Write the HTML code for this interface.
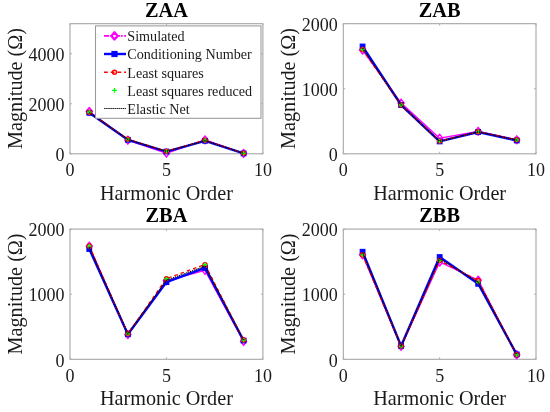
<!DOCTYPE html>
<html><head><meta charset="utf-8"><title>Impedance magnitude vs harmonic order</title><style>html,body{margin:0;padding:0;background:#fff;}svg{display:block;}</style></head><body><svg width="550" height="412" viewBox="0 0 550 412" font-family='"Liberation Serif", "Times New Roman", serif'>
<rect width="550" height="412" fill="#fff"/>
<rect x="70" y="23.7" width="192.90" height="130.10" fill="#fff" stroke="#a2a2a2" stroke-width="1.05"/>
<path d="M70.00 153.8v-2M70.00 23.7v2M166.45 153.8v-2M166.45 23.7v2M262.90 153.8v-2M262.90 23.7v2M70 153.80h2M262.9 153.80h-2M70 103.76h2M262.9 103.76h-2M70 53.72h2M262.9 53.72h-2" stroke="#b0b0b0" stroke-width="1" fill="none"/>
<text x="70.00" y="176.4" font-size="18" text-anchor="middle" fill="#1a1a1a">0</text>
<text x="166.45" y="176.4" font-size="18" text-anchor="middle" fill="#1a1a1a">5</text>
<text x="262.90" y="176.4" font-size="18" text-anchor="middle" fill="#1a1a1a">10</text>
<text x="64.4" y="161.00" font-size="18" text-anchor="end" fill="#1a1a1a">0</text>
<text x="64.4" y="110.96" font-size="18" text-anchor="end" fill="#1a1a1a">2000</text>
<text x="64.4" y="60.92" font-size="18" text-anchor="end" fill="#1a1a1a">4000</text>
<text x="166.45" y="199.60000000000002" font-size="20.2" text-anchor="middle" fill="#1a1a1a">Harmonic Order</text>
<text transform="translate(21.60 88.45) rotate(-90)" font-size="20.2" text-anchor="middle" fill="#1a1a1a">Magnitude (&#937;)</text>
<text x="166.45" y="16.90" font-size="20.3" font-weight="bold" text-anchor="middle" fill="#000">ZAA</text>
<polyline points="89.29,111.52 127.87,140.16 166.45,153.17 205.03,139.91 243.61,153.42" fill="none" stroke="#ff00ff" stroke-width="1.4"/><path d="M89.29 107.52L92.39 111.52L89.29 115.52L86.19 111.52Z" fill="none" stroke="#ff00ff" stroke-width="1.4" stroke-linejoin="round"/><path d="M127.87 136.16L130.97 140.16L127.87 144.16L124.77 140.16Z" fill="none" stroke="#ff00ff" stroke-width="1.4" stroke-linejoin="round"/><path d="M166.45 149.17L169.55 153.17L166.45 157.17L163.35 153.17Z" fill="none" stroke="#ff00ff" stroke-width="1.4" stroke-linejoin="round"/><path d="M205.03 135.91L208.13 139.91L205.03 143.91L201.93 139.91Z" fill="none" stroke="#ff00ff" stroke-width="1.4" stroke-linejoin="round"/><path d="M243.61 149.42L246.71 153.42L243.61 157.42L240.51 153.42Z" fill="none" stroke="#ff00ff" stroke-width="1.4" stroke-linejoin="round"/><polyline points="89.29,112.77 127.87,139.79 166.45,151.55 205.03,140.79 243.61,153.42" fill="none" stroke="#0000ff" stroke-width="2.4" stroke-linejoin="round"/><rect x="86.89" y="110.37" width="4.80" height="4.80" fill="#0000ff" stroke="#0000ff" stroke-width="1"/><rect x="125.47" y="137.39" width="4.80" height="4.80" fill="#0000ff" stroke="#0000ff" stroke-width="1"/><rect x="164.05" y="149.15" width="4.80" height="4.80" fill="#0000ff" stroke="#0000ff" stroke-width="1"/><rect x="202.63" y="138.39" width="4.80" height="4.80" fill="#0000ff" stroke="#0000ff" stroke-width="1"/><rect x="241.21" y="151.02" width="4.80" height="4.80" fill="#0000ff" stroke="#0000ff" stroke-width="1"/><polyline points="89.29,112.27 127.87,139.29 166.45,151.30 205.03,140.29 243.61,153.30" fill="none" stroke="#ff0000" stroke-width="1.3" stroke-dasharray="3.6 3"/><circle cx="89.29" cy="112.27" r="2.00" fill="none" stroke="#ff0000" stroke-width="1.4"/><circle cx="127.87" cy="139.29" r="2.00" fill="none" stroke="#ff0000" stroke-width="1.4"/><circle cx="166.45" cy="151.30" r="2.00" fill="none" stroke="#ff0000" stroke-width="1.4"/><circle cx="205.03" cy="140.29" r="2.00" fill="none" stroke="#ff0000" stroke-width="1.4"/><circle cx="243.61" cy="153.30" r="2.00" fill="none" stroke="#ff0000" stroke-width="1.4"/><path d="M87.19 112.27H91.39M89.29 110.17V114.37" stroke="#00ff00" stroke-width="1.3" fill="none"/><path d="M125.77 139.29H129.97M127.87 137.19V141.39" stroke="#00ff00" stroke-width="1.3" fill="none"/><path d="M164.35 151.30H168.55M166.45 149.20V153.40" stroke="#00ff00" stroke-width="1.3" fill="none"/><path d="M202.93 140.29H207.13M205.03 138.19V142.39" stroke="#00ff00" stroke-width="1.3" fill="none"/><path d="M241.51 153.30H245.71M243.61 151.20V155.40" stroke="#00ff00" stroke-width="1.3" fill="none"/><polyline points="89.29,112.52 127.87,139.54 166.45,151.42 205.03,140.54 243.61,153.42" fill="none" stroke="#000" stroke-width="1.2" stroke-dasharray="1.2 0.8"/>
<rect x="95.5" y="25.9" width="165.5" height="92.4" fill="#fff" stroke="#999" stroke-width="1.05"/>
<line x1="104" y1="35.9" x2="126" y2="35.9" stroke="#ff00ff" stroke-width="1.6" stroke-dasharray="5.2 1.1 9.9 0.9 1.6 1.4 5"/>
<path d="M114.50 32.30L117.60 35.90L114.50 39.50L111.40 35.90Z" fill="#fff" stroke="#ff00ff" stroke-width="2.3" stroke-linejoin="round"/>
<line x1="104" y1="54.0" x2="126" y2="54.0" stroke="#0000ff" stroke-width="2.4"/>
<rect x="111.90" y="51.40" width="5.20" height="5.20" fill="#0000ff" stroke="#0000ff" stroke-width="1"/>
<line x1="104" y1="72.2" x2="126" y2="72.2" stroke="#ff0000" stroke-width="1.5" stroke-dasharray="3.8 2.9"/>
<circle cx="114.50" cy="72.20" r="2.00" fill="none" stroke="#ff0000" stroke-width="1.5"/>
<path d="M112.10 90.40H116.90M114.50 88.00V92.80" stroke="#00ff00" stroke-width="1.3" fill="none"/>
<line x1="104" y1="108.5" x2="126" y2="108.5" stroke="#222" stroke-width="1.1" stroke-dasharray="1.6 0.5"/>
<text x="127.3" y="41.30" font-size="14.15" fill="#1a1a1a">Simulated</text>
<text x="127.3" y="59.40" font-size="14.15" fill="#1a1a1a">Conditioning Number</text>
<text x="127.3" y="77.60" font-size="14.15" fill="#1a1a1a">Least squares</text>
<text x="127.3" y="95.80" font-size="14.15" fill="#1a1a1a">Least squares reduced</text>
<text x="127.3" y="113.90" font-size="14.15" fill="#1a1a1a">Elastic Net</text>
<rect x="343.3" y="23.7" width="192.70" height="130.10" fill="#fff" stroke="#a2a2a2" stroke-width="1.05"/>
<path d="M343.30 153.8v-2M343.30 23.7v2M439.65 153.8v-2M439.65 23.7v2M536.00 153.8v-2M536.00 23.7v2M343.3 153.80h2M536 153.80h-2M343.3 88.75h2M536 88.75h-2M343.3 23.70h2M536 23.70h-2" stroke="#b0b0b0" stroke-width="1" fill="none"/>
<text x="343.30" y="176.4" font-size="18" text-anchor="middle" fill="#1a1a1a">0</text>
<text x="439.65" y="176.4" font-size="18" text-anchor="middle" fill="#1a1a1a">5</text>
<text x="536.00" y="176.4" font-size="18" text-anchor="middle" fill="#1a1a1a">10</text>
<text x="337.7" y="161.00" font-size="18" text-anchor="end" fill="#1a1a1a">0</text>
<text x="337.7" y="95.95" font-size="18" text-anchor="end" fill="#1a1a1a">1000</text>
<text x="337.7" y="30.90" font-size="18" text-anchor="end" fill="#1a1a1a">2000</text>
<text x="439.65" y="199.60000000000002" font-size="20.2" text-anchor="middle" fill="#1a1a1a">Harmonic Order</text>
<text transform="translate(294.90 88.45) rotate(-90)" font-size="20.2" text-anchor="middle" fill="#1a1a1a">Magnitude (&#937;)</text>
<text x="439.65" y="16.90" font-size="20.3" font-weight="bold" text-anchor="middle" fill="#000">ZAB</text>
<polyline points="362.57,50.05 401.11,103.06 439.65,138.19 478.19,131.36 516.73,139.81" fill="none" stroke="#ff00ff" stroke-width="1.4"/><path d="M362.57 46.05L365.67 50.05L362.57 54.05L359.47 50.05Z" fill="none" stroke="#ff00ff" stroke-width="1.4" stroke-linejoin="round"/><path d="M401.11 99.06L404.21 103.06L401.11 107.06L398.01 103.06Z" fill="none" stroke="#ff00ff" stroke-width="1.4" stroke-linejoin="round"/><path d="M439.65 134.19L442.75 138.19L439.65 142.19L436.55 138.19Z" fill="none" stroke="#ff00ff" stroke-width="1.4" stroke-linejoin="round"/><path d="M478.19 127.36L481.29 131.36L478.19 135.36L475.09 131.36Z" fill="none" stroke="#ff00ff" stroke-width="1.4" stroke-linejoin="round"/><path d="M516.73 135.81L519.83 139.81L516.73 143.81L513.63 139.81Z" fill="none" stroke="#ff00ff" stroke-width="1.4" stroke-linejoin="round"/><polyline points="362.57,46.47 401.11,105.01 439.65,141.44 478.19,132.01 516.73,140.46" fill="none" stroke="#0000ff" stroke-width="2.4" stroke-linejoin="round"/><rect x="360.17" y="44.07" width="4.80" height="4.80" fill="#0000ff" stroke="#0000ff" stroke-width="1"/><rect x="398.71" y="102.61" width="4.80" height="4.80" fill="#0000ff" stroke="#0000ff" stroke-width="1"/><rect x="437.25" y="139.04" width="4.80" height="4.80" fill="#0000ff" stroke="#0000ff" stroke-width="1"/><rect x="475.79" y="129.61" width="4.80" height="4.80" fill="#0000ff" stroke="#0000ff" stroke-width="1"/><rect x="514.33" y="138.06" width="4.80" height="4.80" fill="#0000ff" stroke="#0000ff" stroke-width="1"/><polyline points="362.57,49.52 401.11,105.01 439.65,141.12 478.19,131.68 516.73,139.81" fill="none" stroke="#ff0000" stroke-width="1.3" stroke-dasharray="3.6 3"/><circle cx="362.57" cy="49.52" r="2.00" fill="none" stroke="#ff0000" stroke-width="1.4"/><circle cx="401.11" cy="105.01" r="2.00" fill="none" stroke="#ff0000" stroke-width="1.4"/><circle cx="439.65" cy="141.12" r="2.00" fill="none" stroke="#ff0000" stroke-width="1.4"/><circle cx="478.19" cy="131.68" r="2.00" fill="none" stroke="#ff0000" stroke-width="1.4"/><circle cx="516.73" cy="139.81" r="2.00" fill="none" stroke="#ff0000" stroke-width="1.4"/><path d="M360.47 49.52H364.67M362.57 47.42V51.62" stroke="#00ff00" stroke-width="1.3" fill="none"/><path d="M399.01 105.01H403.21M401.11 102.91V107.11" stroke="#00ff00" stroke-width="1.3" fill="none"/><path d="M437.55 141.12H441.75M439.65 139.02V143.22" stroke="#00ff00" stroke-width="1.3" fill="none"/><path d="M476.09 131.68H480.29M478.19 129.58V133.78" stroke="#00ff00" stroke-width="1.3" fill="none"/><path d="M514.63 139.81H518.83M516.73 137.71V141.91" stroke="#00ff00" stroke-width="1.3" fill="none"/><polyline points="362.57,48.09 401.11,104.88 439.65,141.31 478.19,131.81 516.73,140.14" fill="none" stroke="#000" stroke-width="1.2" stroke-dasharray="1.2 0.8"/>
<rect x="70" y="229.1" width="192.90" height="130.20" fill="#fff" stroke="#a2a2a2" stroke-width="1.05"/>
<path d="M70.00 359.3v-2M70.00 229.1v2M166.45 359.3v-2M166.45 229.1v2M262.90 359.3v-2M262.90 229.1v2M70 359.30h2M262.9 359.30h-2M70 294.20h2M262.9 294.20h-2M70 229.10h2M262.9 229.10h-2" stroke="#b0b0b0" stroke-width="1" fill="none"/>
<text x="70.00" y="381.90000000000003" font-size="18" text-anchor="middle" fill="#1a1a1a">0</text>
<text x="166.45" y="381.90000000000003" font-size="18" text-anchor="middle" fill="#1a1a1a">5</text>
<text x="262.90" y="381.90000000000003" font-size="18" text-anchor="middle" fill="#1a1a1a">10</text>
<text x="64.4" y="366.50" font-size="18" text-anchor="end" fill="#1a1a1a">0</text>
<text x="64.4" y="301.40" font-size="18" text-anchor="end" fill="#1a1a1a">1000</text>
<text x="64.4" y="236.30" font-size="18" text-anchor="end" fill="#1a1a1a">2000</text>
<text x="166.45" y="405.1" font-size="20.2" text-anchor="middle" fill="#1a1a1a">Harmonic Order</text>
<text transform="translate(21.60 293.90) rotate(-90)" font-size="20.2" text-anchor="middle" fill="#1a1a1a">Magnitude (&#937;)</text>
<text x="166.45" y="222.30" font-size="20.3" font-weight="bold" text-anchor="middle" fill="#000">ZBA</text>
<polyline points="89.29,246.16 127.87,334.56 166.45,280.85 205.03,270.44 243.61,341.40" fill="none" stroke="#ff00ff" stroke-width="1.4"/><path d="M89.29 242.16L92.39 246.16L89.29 250.16L86.19 246.16Z" fill="none" stroke="#ff00ff" stroke-width="1.4" stroke-linejoin="round"/><path d="M127.87 330.56L130.97 334.56L127.87 338.56L124.77 334.56Z" fill="none" stroke="#ff00ff" stroke-width="1.4" stroke-linejoin="round"/><path d="M166.45 276.85L169.55 280.85L166.45 284.85L163.35 280.85Z" fill="none" stroke="#ff00ff" stroke-width="1.4" stroke-linejoin="round"/><path d="M205.03 266.44L208.13 270.44L205.03 274.44L201.93 270.44Z" fill="none" stroke="#ff00ff" stroke-width="1.4" stroke-linejoin="round"/><path d="M243.61 337.40L246.71 341.40L243.61 345.40L240.51 341.40Z" fill="none" stroke="#ff00ff" stroke-width="1.4" stroke-linejoin="round"/><polyline points="89.29,248.96 127.87,334.24 166.45,282.16 205.03,267.83 243.61,340.55" fill="none" stroke="#0000ff" stroke-width="2.4" stroke-linejoin="round"/><rect x="86.89" y="246.56" width="4.80" height="4.80" fill="#0000ff" stroke="#0000ff" stroke-width="1"/><rect x="125.47" y="331.84" width="4.80" height="4.80" fill="#0000ff" stroke="#0000ff" stroke-width="1"/><rect x="164.05" y="279.76" width="4.80" height="4.80" fill="#0000ff" stroke="#0000ff" stroke-width="1"/><rect x="202.63" y="265.43" width="4.80" height="4.80" fill="#0000ff" stroke="#0000ff" stroke-width="1"/><rect x="241.21" y="338.15" width="4.80" height="4.80" fill="#0000ff" stroke="#0000ff" stroke-width="1"/><polyline points="89.29,246.03 127.87,333.78 166.45,278.58 205.03,264.58 243.61,340.03" fill="none" stroke="#ff0000" stroke-width="1.3" stroke-dasharray="3.6 3"/><circle cx="89.29" cy="246.03" r="2.00" fill="none" stroke="#ff0000" stroke-width="1.4"/><circle cx="127.87" cy="333.78" r="2.00" fill="none" stroke="#ff0000" stroke-width="1.4"/><circle cx="166.45" cy="278.58" r="2.00" fill="none" stroke="#ff0000" stroke-width="1.4"/><circle cx="205.03" cy="264.58" r="2.00" fill="none" stroke="#ff0000" stroke-width="1.4"/><circle cx="243.61" cy="340.03" r="2.00" fill="none" stroke="#ff0000" stroke-width="1.4"/><path d="M87.19 246.22H91.39M89.29 244.12V248.32" stroke="#00ff00" stroke-width="1.3" fill="none"/><path d="M125.77 333.78H129.97M127.87 331.68V335.88" stroke="#00ff00" stroke-width="1.3" fill="none"/><path d="M164.35 278.77H168.55M166.45 276.67V280.87" stroke="#00ff00" stroke-width="1.3" fill="none"/><path d="M202.93 264.77H207.13M205.03 262.67V266.87" stroke="#00ff00" stroke-width="1.3" fill="none"/><path d="M241.51 340.16H245.71M243.61 338.06V342.26" stroke="#00ff00" stroke-width="1.3" fill="none"/><polyline points="89.29,247.33 127.87,333.91 166.45,280.20 205.03,266.21 243.61,340.29" fill="none" stroke="#000" stroke-width="1.2" stroke-dasharray="1.2 0.8"/>
<rect x="343.3" y="229.1" width="192.70" height="130.20" fill="#fff" stroke="#a2a2a2" stroke-width="1.05"/>
<path d="M343.30 359.3v-2M343.30 229.1v2M439.65 359.3v-2M439.65 229.1v2M536.00 359.3v-2M536.00 229.1v2M343.3 359.30h2M536 359.30h-2M343.3 294.20h2M536 294.20h-2M343.3 229.10h2M536 229.10h-2" stroke="#b0b0b0" stroke-width="1" fill="none"/>
<text x="343.30" y="381.90000000000003" font-size="18" text-anchor="middle" fill="#1a1a1a">0</text>
<text x="439.65" y="381.90000000000003" font-size="18" text-anchor="middle" fill="#1a1a1a">5</text>
<text x="536.00" y="381.90000000000003" font-size="18" text-anchor="middle" fill="#1a1a1a">10</text>
<text x="337.7" y="366.50" font-size="18" text-anchor="end" fill="#1a1a1a">0</text>
<text x="337.7" y="301.40" font-size="18" text-anchor="end" fill="#1a1a1a">1000</text>
<text x="337.7" y="236.30" font-size="18" text-anchor="end" fill="#1a1a1a">2000</text>
<text x="439.65" y="405.1" font-size="20.2" text-anchor="middle" fill="#1a1a1a">Harmonic Order</text>
<text transform="translate(294.90 293.90) rotate(-90)" font-size="20.2" text-anchor="middle" fill="#1a1a1a">Magnitude (&#937;)</text>
<text x="439.65" y="222.30" font-size="20.3" font-weight="bold" text-anchor="middle" fill="#000">ZBB</text>
<polyline points="362.57,254.81 401.11,346.41 439.65,261.98 478.19,280.20 516.73,354.74" fill="none" stroke="#ff00ff" stroke-width="1.4"/><path d="M362.57 250.81L365.67 254.81L362.57 258.81L359.47 254.81Z" fill="none" stroke="#ff00ff" stroke-width="1.4" stroke-linejoin="round"/><path d="M401.11 342.41L404.21 346.41L401.11 350.41L398.01 346.41Z" fill="none" stroke="#ff00ff" stroke-width="1.4" stroke-linejoin="round"/><path d="M439.65 257.98L442.75 261.98L439.65 265.98L436.55 261.98Z" fill="none" stroke="#ff00ff" stroke-width="1.4" stroke-linejoin="round"/><path d="M478.19 276.20L481.29 280.20L478.19 284.20L475.09 280.20Z" fill="none" stroke="#ff00ff" stroke-width="1.4" stroke-linejoin="round"/><path d="M516.73 350.74L519.83 354.74L516.73 358.74L513.63 354.74Z" fill="none" stroke="#ff00ff" stroke-width="1.4" stroke-linejoin="round"/><polyline points="362.57,251.75 401.11,345.95 439.65,257.09 478.19,283.78 516.73,354.42" fill="none" stroke="#0000ff" stroke-width="2.4" stroke-linejoin="round"/><rect x="360.17" y="249.35" width="4.80" height="4.80" fill="#0000ff" stroke="#0000ff" stroke-width="1"/><rect x="398.71" y="343.55" width="4.80" height="4.80" fill="#0000ff" stroke="#0000ff" stroke-width="1"/><rect x="437.25" y="254.69" width="4.80" height="4.80" fill="#0000ff" stroke="#0000ff" stroke-width="1"/><rect x="475.79" y="281.38" width="4.80" height="4.80" fill="#0000ff" stroke="#0000ff" stroke-width="1"/><rect x="514.33" y="352.02" width="4.80" height="4.80" fill="#0000ff" stroke="#0000ff" stroke-width="1"/><polyline points="362.57,254.81 401.11,346.15 439.65,260.54 478.19,280.53 516.73,354.74" fill="none" stroke="#ff0000" stroke-width="1.3" stroke-dasharray="3.6 3"/><circle cx="362.57" cy="254.81" r="2.00" fill="none" stroke="#ff0000" stroke-width="1.4"/><circle cx="401.11" cy="346.15" r="2.00" fill="none" stroke="#ff0000" stroke-width="1.4"/><circle cx="439.65" cy="260.54" r="2.00" fill="none" stroke="#ff0000" stroke-width="1.4"/><circle cx="478.19" cy="280.53" r="2.00" fill="none" stroke="#ff0000" stroke-width="1.4"/><circle cx="516.73" cy="354.74" r="2.00" fill="none" stroke="#ff0000" stroke-width="1.4"/><path d="M360.47 254.81H364.67M362.57 252.71V256.91" stroke="#00ff00" stroke-width="1.3" fill="none"/><path d="M399.01 346.28H403.21M401.11 344.18V348.38" stroke="#00ff00" stroke-width="1.3" fill="none"/><path d="M437.55 260.54H441.75M439.65 258.44V262.64" stroke="#00ff00" stroke-width="1.3" fill="none"/><path d="M476.09 282.16H480.29M478.19 280.06V284.26" stroke="#00ff00" stroke-width="1.3" fill="none"/><path d="M514.63 354.81H518.83M516.73 352.71V356.91" stroke="#00ff00" stroke-width="1.3" fill="none"/><polyline points="362.57,252.54 401.11,346.08 439.65,258.72 478.19,282.16 516.73,354.61" fill="none" stroke="#000" stroke-width="1.2" stroke-dasharray="1.2 0.8"/>
</svg></body></html>
